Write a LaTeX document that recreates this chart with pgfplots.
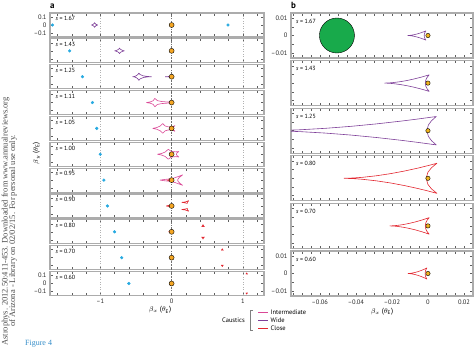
\documentclass[border=0pt]{standalone}
\usepackage{pgfplots}
\pgfplotsset{compat=1.18}
\usepackage{pgfplotstable}
\usepackage{fontspec}
\setmainfont{PT Sans}
\newfontfamily\wmfont{Liberation Serif}

\definecolor{wide}{RGB}{126,63,152}
\definecolor{inter}{RGB}{218,72,150}
\definecolor{close}{RGB}{226,38,47}
\definecolor{dotor}{RGB}{245,166,35}
\definecolor{dotyl}{RGB}{240,180,30}
\definecolor{cyandot}{RGB}{39,170,225}
\definecolor{srcgreen}{RGB}{24,170,75}
\definecolor{framegray}{RGB}{172,172,172}
\definecolor{tickgray}{RGB}{95,95,95}
\definecolor{figblue}{RGB}{50,140,200}

% central caustics (panel b), s = 1.67, 1.43, 1.25, 0.80, 0.70, 0.60
\pgfplotstableread{
x y
-0.0113 0
-0.01028 0.000054
-0.00926 0.000175
-0.00773 0.000453
-0.0062 0.000831
-0.00467 0.0013
-0.00314 0.00185
-0.00212 0.00226
-0.0011 0.0027
-0.00161 0.00189
-0.00194 0.00108
-0.0021 0
-0.00194 -0.00108
-0.00161 -0.00189
-0.0011 -0.0027
-0.00212 -0.00226
-0.00314 -0.00185
-0.00467 -0.0013
-0.0062 -0.000831
-0.00773 -0.000453
-0.00926 -0.000175
-0.01028 -0.000054
-0.0113 0
}\cA
\pgfplotstableread{
x y
-0.0242 0
-0.02171 0.000096
-0.01922 0.000311
-0.01548 0.000805
-0.01175 0.001477
-0.00802 0.002308
-0.00428 0.003285
-0.00179 0.004013
0.0007 0.0048
-0.00042 0.00336
-0.00115 0.00192
-0.0015 0
-0.00115 -0.00192
-0.00042 -0.00336
0.0007 -0.0048
-0.00179 -0.004013
-0.00428 -0.003285
-0.00802 -0.002308
-0.01175 -0.001477
-0.01548 -0.000805
-0.01922 -0.000311
-0.02171 -0.000096
-0.0242 0
}\cB
\pgfplotstableread{
x y
-0.09 0
-0.08054 0.000164
-0.07108 0.000531
-0.05689 0.001376
-0.0427 0.002524
-0.02851 0.003943
-0.01432 0.005611
-0.00486 0.006855
0.0046 0.0082
0.00195 0.00574
0.00023 0.00328
-0.0006 0
0.00023 -0.00328
0.00195 -0.00574
0.0046 -0.0082
-0.00486 -0.006855
-0.01432 -0.005611
-0.02851 -0.003943
-0.0427 -0.002524
-0.05689 -0.001376
-0.07108 -0.000531
-0.08054 -0.000164
-0.09 0
}\cC
\pgfplotstableread{
x y
-0.0467 0
-0.04153 0.000174
-0.03636 0.000564
-0.02861 0.00146
-0.02085 0.002678
-0.0131 0.004183
-0.00534 0.005953
-0.00017 0.007273
0.005 0.0087
0.00194 0.00609
-0.00004 0.00348
-0.001 0
-0.00004 -0.00348
0.00194 -0.00609
0.005 -0.0087
-0.00017 -0.007273
-0.00534 -0.005953
-0.0131 -0.004183
-0.02085 -0.002678
-0.02861 -0.00146
-0.03636 -0.000564
-0.04153 -0.000174
-0.0467 0
}\cD
\pgfplotstableread{
x y
-0.0212 0
-0.01901 0.000096
-0.01682 0.000311
-0.01354 0.000805
-0.01025 0.001477
-0.00697 0.002308
-0.00368 0.003285
-0.00149 0.004013
0.0007 0.0048
-0.00042 0.00336
-0.00115 0.00192
-0.0015 0
-0.00115 -0.00192
-0.00042 -0.00336
0.0007 -0.0048
-0.00149 -0.004013
-0.00368 -0.003285
-0.00697 -0.002308
-0.01025 -0.001477
-0.01354 -0.000805
-0.01682 -0.000311
-0.01901 -0.000096
-0.0212 0
}\cE
\pgfplotstableread{
x y
-0.0111 0
-0.01005 0.000064
-0.009 0.000207
-0.007425 0.000537
-0.00585 0.000985
-0.004275 0.001539
-0.0027 0.00219
-0.00165 0.002675
-0.0006 0.0032
-0.00111 0.00224
-0.00144 0.00128
-0.0016 0
-0.00144 -0.00128
-0.00111 -0.00224
-0.0006 -0.0032
-0.00165 -0.002675
-0.0027 -0.00219
-0.004275 -0.001539
-0.00585 -0.000985
-0.007425 -0.000537
-0.009 -0.000207
-0.01005 -0.000064
-0.0111 0
}\cF

\pgfplotsset{
  rowbase/.style={
    scale only axis,
    axis line style={draw=framegray, line width=1.2bp},
    tick style={draw=tickgray, line width=0.45bp},
    tick align=inside,
    xtick pos=both, ytick pos=both,
    major tick length=2.6bp,
    scaled ticks=false,
    /pgf/number format/assume math mode=true,
    ticklabel style={font=\fontsize{6.5}{7}\selectfont, text=black!85},
    xticklabels={}, yticklabels={},
    clip=true,
  },
  arow/.style={rowbase, width=214bp, height=24bp,
    xmin=-1.705, xmax=1.295, ymin=-0.15, ymax=0.15,
    xtick={-1.6,-1.4,-1.2,-1,-0.8,-0.6,-0.4,-0.2,0,0.2,0.4,0.6,0.8,1,1.2},
    ytick={-0.1,0,0.1}, anchor=north west},
  brow/.style={rowbase, width=182bp, height=45bp,
    xmin=-0.076, xmax=0.025, ymin=-0.013, ymax=0.013,
    xtick={-0.075,-0.07,-0.065,-0.06,-0.055,-0.05,-0.045,-0.04,-0.035,-0.03,-0.025,-0.02,-0.015,-0.01,-0.005,0,0.005,0.01,0.015,0.02},
    ytick={-0.01,-0.005,0,0.005,0.01}, anchor=north west},
  wl/.style={draw=wide, line width=0.6bp, line join=round},
  il/.style={draw=inter, line width=0.6bp, line join=round},
  cl/.style={draw=close, line width=0.6bp, line join=round},
  odot/.style={only marks, mark=*, mark size=2.5bp, mark options={draw=none, fill=dotor}},
  ydot/.style={only marks, mark=*, mark size=2.2bp, mark options={draw=none, fill=dotyl}},
  cdot/.style={only marks, color=cyandot, mark=*, mark size=1.4bp, mark options={draw=none, fill=cyandot}},
}
\newcommand{\vlines}{%
  \addplot[draw=gray!60, dotted, line width=0.5bp] coordinates {(-1,-0.2) (-1,0.2)};
  \addplot[draw=gray!90!black, dash pattern=on 1.5bp off 1.2bp, line width=0.5bp] coordinates {(0,-0.2) (0,0.2)};
  \addplot[draw=gray!60, dotted, line width=0.5bp] coordinates {(1,-0.2) (1,0.2)};}
\newcommand{\sla}[1]{\node[anchor=west, inner sep=0pt, font=\fontsize{6}{7}\selectfont] at (rel axis cs:0.025,0.76) {\textit{s} = #1};}
\newcommand{\slb}[1]{\node[anchor=west, inner sep=0pt, font=\fontsize{6}{7}\selectfont] at (rel axis cs:0.027,0.82) {\textit{s} = #1};}

\begin{document}
\begin{tikzpicture}
% ---------------- panel a ----------------
\begin{axis}[arow, at={(50bp,-13bp)}, yticklabels={–0.1,0,0.1}]
\vlines
\addplot[wl] coordinates {(-1.035,0) (-1.0445,0.0017) (-1.0641,0.0106) (-1.0775,0.0237) (-1.08,0.03) (-1.0825,0.0237) (-1.0959,0.0106) (-1.1155,0.0017) (-1.125,0) (-1.1155,-0.0017) (-1.0959,-0.0106) (-1.0825,-0.0237) (-1.08,-0.03) (-1.0775,-0.0237) (-1.0641,-0.0106) (-1.0445,-0.0017) (-1.035,0)};
\addplot[wl] table {\cA};
\addplot[odot] coordinates {(0,0)};
\addplot[cdot] coordinates {(-1.67,0) (0.79,0)};
\sla{1.67}
\end{axis}

\begin{axis}[arow, at={(50bp,-38.85bp)}]
\vlines
\addplot[wl] coordinates {(-0.66,0) (-0.6748,0.002) (-0.7052,0.0124) (-0.7261,0.0276) (-0.73,0.035) (-0.7339,0.0276) (-0.7548,0.0124) (-0.7852,0.002) (-0.8,0) (-0.7852,-0.002) (-0.7548,-0.0124) (-0.7339,-0.0276) (-0.73,-0.035) (-0.7261,-0.0276) (-0.7052,-0.0124) (-0.6748,-0.002) (-0.66,0)};
\addplot[wl] table {\cB};
\addplot[odot] coordinates {(0,0)};
\addplot[cdot] coordinates {(-1.43,0)};
\sla{1.43}
\end{axis}

\begin{axis}[arow, at={(50bp,-64.7bp)}]
\vlines
\addplot[wl] coordinates {(-0.28,0) (-0.34,0.003) (-0.395,0.01) (-0.44,0.026) (-0.46,0.045) (-0.47,0.03) (-0.495,0.012) (-0.52,0.003) (-0.545,0) (-0.52,-0.003) (-0.495,-0.012) (-0.47,-0.03) (-0.46,-0.045) (-0.44,-0.026) (-0.395,-0.01) (-0.34,-0.003) (-0.28,0)};
\addplot[wl] table {\cC};
\addplot[odot] coordinates {(0,0)};
\addplot[cdot] coordinates {(-1.25,0)};
\sla{1.25}
\end{axis}

\begin{axis}[arow, at={(50bp,-90.55bp)}]
\vlines
\addplot[il] coordinates {(-0.355,0) (-0.30,0.008) (-0.26,0.022) (-0.235,0.052) (-0.20,0.024) (-0.14,0.013) (-0.07,0.008) (-0.01,0.006) (0.012,0) (-0.01,-0.006) (-0.07,-0.008) (-0.14,-0.013) (-0.20,-0.024) (-0.235,-0.052) (-0.26,-0.022) (-0.30,-0.008) (-0.355,0)};
\addplot[odot] coordinates {(0,0)};
\addplot[cdot] coordinates {(-1.11,0)};
\sla{1.11}
\end{axis}

\begin{axis}[arow, at={(50bp,-116.4bp)}]
\vlines
\addplot[il] coordinates {(-0.267,0) (-0.21,0.01) (-0.16,0.03) (-0.125,0.06) (-0.09,0.03) (-0.05,0.02) (-0.02,0.018) (0.02,0.024) (0.046,0.036) (0.026,0.015) (0.02,0) (0.026,-0.015) (0.046,-0.036) (0.02,-0.024) (-0.02,-0.018) (-0.05,-0.02) (-0.09,-0.03) (-0.125,-0.06) (-0.16,-0.03) (-0.21,-0.01) (-0.267,0)};
\addplot[odot] coordinates {(0,0)};
\addplot[cdot] coordinates {(-1.05,0)};
\sla{1.05}
\end{axis}

\begin{axis}[arow, at={(50bp,-142.25bp)}]
\vlines
\addplot[odot] coordinates {(0,0)};
\addplot[il] coordinates {(-0.2,0) (-0.14,0.01) (-0.09,0.028) (-0.047,0.062) (-0.005,0.036) (0.05,0.03) (0.1,0.034) (0.075,0.015) (0.066,0) (0.075,-0.015) (0.1,-0.034) (0.05,-0.03) (-0.005,-0.036) (-0.047,-0.062) (-0.09,-0.028) (-0.14,-0.01) (-0.2,0)};
\addplot[cdot] coordinates {(-1.0,0)};
\sla{1.00}
\end{axis}

\begin{axis}[arow, at={(50bp,-168.1bp)}]
\vlines
\addplot[odot] coordinates {(0,0)};
\addplot[cl] coordinates {(-0.07,0) (-0.035,0.006) (-0.005,0.012) (0.012,0.02) (0.005,0.008) (0.002,0) (0.005,-0.008) (0.012,-0.02) (-0.005,-0.012) (-0.035,-0.006) (-0.07,0)};
\addplot[il] coordinates {(-0.164,0) (-0.1,0.008) (-0.03,0.015) (0.03,0.025) (0.09,0.044) (0.154,0.065) (0.11,0.035) (0.09,0.015) (0.085,0) (0.09,-0.015) (0.11,-0.035) (0.154,-0.065) (0.09,-0.044) (0.03,-0.025) (-0.03,-0.015) (-0.1,-0.008) (-0.164,0)};
\addplot[cdot] coordinates {(-0.95,0)};
\sla{0.95}
\end{axis}

\begin{axis}[arow, at={(50bp,-193.95bp)}]
\vlines
\addplot[odot] coordinates {(0,0)};
\addplot[cl, fill=close!80] coordinates {(-0.075,0) (-0.04,0.006) (-0.01,0.012) (0.018,0.022) (0.008,0.01) (0.004,0) (0.008,-0.01) (0.018,-0.022) (-0.01,-0.012) (-0.04,-0.006) (-0.075,0)};
\addplot[cl] coordinates {(0.14,0.045) (0.19,0.05) (0.24,0.066) (0.226,0.05) (0.22,0.032) (0.18,0.04) (0.14,0.045)};
\addplot[cl] coordinates {(0.14,-0.045) (0.19,-0.05) (0.24,-0.066) (0.226,-0.05) (0.22,-0.032) (0.18,-0.04) (0.14,-0.045)};
\addplot[cdot] coordinates {(-0.90,0)};
\sla{0.90}
\end{axis}

\begin{axis}[arow, at={(50bp,-219.8bp)}]
\vlines
\addplot[cl] table {\cD};
\addplot[odot] coordinates {(0,0)};
\addplot[cl, fill=close] coordinates {(0.42,0.065) (0.44,0.068) (0.46,0.065) (0.447,0.074) (0.44,0.09) (0.433,0.074) (0.42,0.065)};
\addplot[cl, fill=close] coordinates {(0.42,-0.065) (0.44,-0.068) (0.46,-0.065) (0.447,-0.074) (0.44,-0.09) (0.433,-0.074) (0.42,-0.065)};
\addplot[cdot] coordinates {(-0.80,0)};
\sla{0.80}
\end{axis}

\begin{axis}[arow, at={(50bp,-245.65bp)}]
\vlines
\addplot[cl] table {\cE};
\addplot[odot] coordinates {(0,0)};
\addplot[cl, fill=close] coordinates {(0.695,0.093) (0.71,0.096) (0.725,0.093) (0.715,0.1) (0.71,0.112) (0.705,0.1) (0.695,0.093)};
\addplot[cl, fill=close] coordinates {(0.695,-0.093) (0.71,-0.096) (0.725,-0.093) (0.715,-0.1) (0.71,-0.112) (0.705,-0.1) (0.695,-0.093)};
\addplot[cdot] coordinates {(-0.70,0)};
\sla{0.70}
\end{axis}

\begin{axis}[arow, at={(50bp,-271.5bp)}, yticklabels={–0.1,0,0.1},
  xticklabels={,,,–1,,,,,0,,,,,1,}]
\vlines
\addplot[cl] table {\cF};
\addplot[odot] coordinates {(0,0)};
\addplot[cl, fill=close] coordinates {(1.04,0.118) (1.052,0.12) (1.064,0.118) (1.056,0.124) (1.052,0.134) (1.048,0.124) (1.04,0.118)};
\addplot[cl, fill=close] coordinates {(1.04,-0.118) (1.052,-0.12) (1.064,-0.118) (1.056,-0.124) (1.052,-0.134) (1.048,-0.124) (1.04,-0.118)};
\addplot[cdot] coordinates {(-0.60,0)};
\sla{0.60}
\end{axis}

% ---------------- panel b ----------------
\begin{axis}[brow, at={(291bp,-13bp)}, yticklabels={–0.01,,0,,0.01}]
\addplot[only marks, mark=*, mark size=17.5bp, mark options={draw=none, fill=srcgreen}] coordinates {(-0.0505,0)};
\addplot[wl] table {\cA};
\addplot[ydot] coordinates {(0,0)};
\slb{1.67}
\end{axis}

\begin{axis}[brow, at={(291bp,-60.6bp)}]
\addplot[wl] table {\cB};
\addplot[ydot] coordinates {(0,0)};
\slb{1.43}
\end{axis}

\begin{axis}[brow, at={(291bp,-108.2bp)}]
\addplot[wl] table {\cC};
\addplot[ydot] coordinates {(0,0)};
\slb{1.25}
\end{axis}

\begin{axis}[brow, at={(291bp,-155.8bp)}]
\addplot[cl] table {\cD};
\addplot[ydot] coordinates {(0,0)};
\slb{0.80}
\end{axis}

\begin{axis}[brow, at={(291bp,-203.4bp)}]
\addplot[cl] table {\cE};
\addplot[ydot] coordinates {(0,0)};
\slb{0.70}
\end{axis}

\begin{axis}[brow, at={(291bp,-251bp)}, yticklabels={–0.01,,0,,0.01},
  xticklabels={,,,–0.06,,,,–0.04,,,,–0.02,,,,0,,,,0.02}]
\addplot[cl] table {\cF};
\addplot[ydot] coordinates {(0,0)};
\slb{0.60}
\end{axis}

% ---------------- texts ----------------
\node[anchor=base west, inner sep=0pt, font=\bfseries\fontsize{9}{10}\selectfont] at (50bp,-8.5bp) {a};
\node[anchor=base west, inner sep=0pt, font=\bfseries\fontsize{9}{10}\selectfont] at (291bp,-8.5bp) {b};
\node[font=\fontsize{7.5}{8}\selectfont] at (160bp,-310bp) {$\beta_x$ ($\theta_\mathrm{E}$)};
\node[font=\fontsize{7.5}{8}\selectfont] at (382bp,-311.5bp) {$\beta_x$ ($\theta_\mathrm{E}$)};
\node[rotate=90, font=\fontsize{7.5}{8}\selectfont] at (36.5bp,-153bp) {$\beta_y$ ($\theta_\mathrm{E}$)};

% legend
\node[anchor=east, inner sep=0pt, font=\fontsize{6.5}{7}\selectfont] at (245bp,-320.5bp) {Caustics};
\draw[gray, line width=0.6bp] (253bp,-310bp) -- (250.5bp,-310bp) -- (250.5bp,-330bp) -- (253bp,-330bp);
\draw[inter, line width=0.8bp] (258bp,-312.7bp) -- (268bp,-312.7bp);
\draw[wide, line width=0.8bp] (258bp,-320.3bp) -- (268bp,-320.3bp);
\draw[close, line width=0.8bp] (258bp,-328bp) -- (268bp,-328bp);
\node[anchor=west, inner sep=0pt, font=\fontsize{6.5}{7}\selectfont] at (270.5bp,-312.7bp) {Intermediate};
\node[anchor=west, inner sep=0pt, font=\fontsize{6.5}{7}\selectfont] at (270.5bp,-320.3bp) {Wide};
\node[anchor=west, inner sep=0pt, font=\fontsize{6.5}{7}\selectfont] at (270.5bp,-328bp) {Close};

% watermark and caption tag
\node[rotate=90, anchor=base east, inner sep=0pt, font=\wmfont\fontsize{8.5}{9}\selectfont, text=black!70] at (7.5bp,-97bp) {Astrophys. 2012.50:411-453. Downloaded from www.annualreviews.org};
\node[rotate=90, anchor=base east, inner sep=0pt, font=\wmfont\fontsize{8.5}{9}\selectfont, text=black!70] at (15bp,-135bp) {of Arizona - Library on 02/02/15. For personal use only.};
\node[anchor=base west, inner sep=0pt, font=\wmfont\fontsize{8}{9}\selectfont, text=figblue] at (25bp,-345bp) {Figure 4};

\pgfresetboundingbox
\path (0,0) rectangle (474bp,-351bp);
\end{tikzpicture}
\end{document}
